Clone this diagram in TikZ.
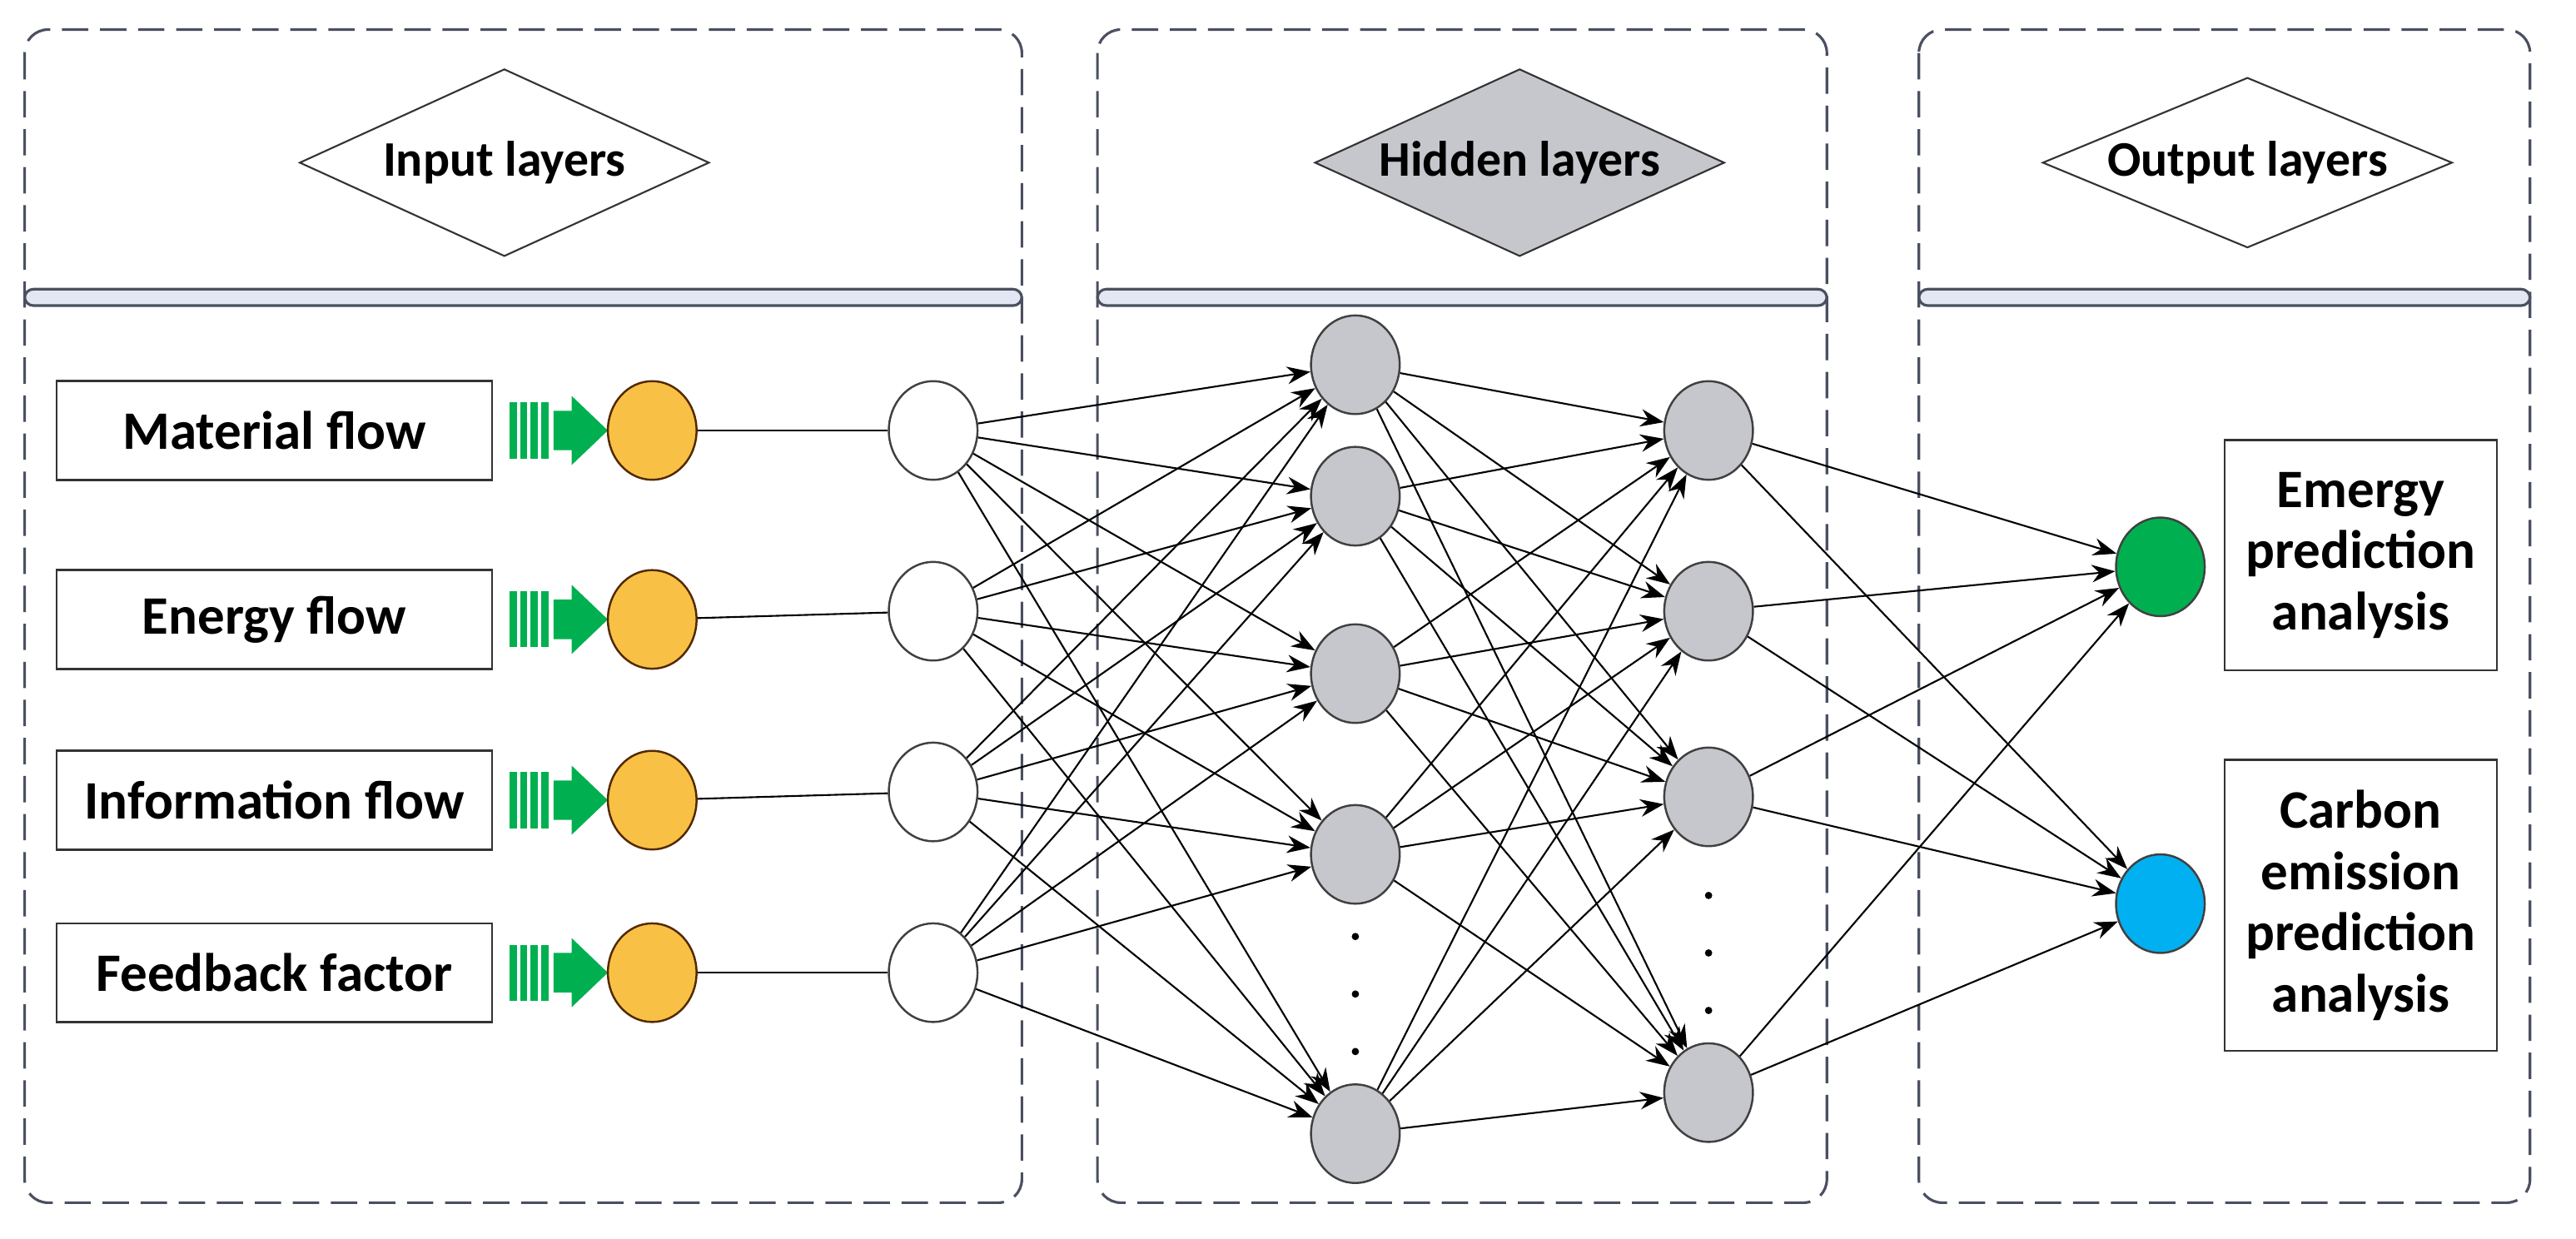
\documentclass[tikz,border=0pt]{standalone}
\usepackage{fontspec}
\setmainfont{Carlito}
\usetikzlibrary{shapes.geometric,arrows.meta}
\definecolor{orng}{HTML}{F8C145}
\definecolor{grn}{HTML}{00B050}
\definecolor{blu}{HTML}{00B0F0}
\definecolor{gry}{HTML}{C6C7CC}
\definecolor{dsh}{HTML}{4A5060}
\definecolor{barf}{HTML}{E4E6F4}
\begin{document}
\begin{tikzpicture}[x=0.01973cm,y=-0.01973cm,
  panel/.style={draw=dsh,line width=0.9pt,dash pattern=on 9pt off 4pt,rounded corners=8pt},
  bar/.style={draw=dsh,line width=0.9pt,fill=barf,rounded corners=3pt},
  dia/.style={diamond,draw=black!80,line width=0.6pt,aspect=2.2,minimum width=140pt,minimum height=64pt,inner sep=0pt,font=\bfseries\fontsize{17}{20}\selectfont},
  box/.style={draw=black!80,line width=0.8pt,minimum width=148.8pt,minimum height=33.7pt,font=\bfseries\fontsize{18.5}{22}\selectfont},
  obox/.style={draw=black!80,line width=0.8pt,minimum width=93pt,inner sep=1pt,align=center,font=\bfseries\fontsize{18.5}{21}\selectfont},
  neu/.style={ellipse,draw=black!75,line width=0.7pt,minimum width=30.3pt,minimum height=33.7pt,inner sep=0pt},
  edge/.style={line width=0.6pt,-{Stealth[length=8pt,width=6pt]}},
  dot/.style={circle,fill=black,inner sep=0pt,minimum size=2.5pt}]
\useasboundingbox (0,0) rectangle (1568,754);
% panels
\draw[panel] (15,18) rectangle (622,732);
\draw[panel] (668,18) rectangle (1112,732);
\draw[panel] (1168,18) rectangle (1540,732);
\draw[bar] (15,176) rectangle (622,186);
\draw[bar] (668,176) rectangle (1112,186);
\draw[bar] (1168,176) rectangle (1540,186);
% headers
\node[dia] (hin) at (307,99) {Input layers};
\node[dia,fill=gry] (hhid) at (925,99) {Hidden layers};
\node[dia,minimum height=52pt] (hout) at (1368,99) {Output layers};
% input boxes
\foreach \n/\t/\y in {a/Material flow/262,b/Energy flow/377,c/Information flow/487,d/Feedback factor/592}{
  \node[box] (box\n) at (167,\y) {\t};
  \foreach \s in {0,1,2,3}{\fill[grn] (310+\s*6.5,\y-17) rectangle (314.5+\s*6.5,\y+17);}
  \fill[grn] (337,\y-12) -- (348,\y-12) -- (348,\y-21) -- (370,\y) -- (348,\y+21) -- (348,\y+12) -- (337,\y+12) -- cycle;
  \node[neu,fill=orng,draw=black!60!orange!80!black] (o\n) at (397,\y) {};
}
\foreach \n/\y in {a/262,b/372,c/482,d/592}{
  \node[neu,fill=white] (w\n) at (568,\y) {};
}
\foreach \n in {a,b,c,d}{\draw[line width=0.6pt] (o\n) -- (w\n);}
% hidden layers
\foreach \n/\y in {1/222,2/302,3/410,4/520,5/690}{\node[neu,fill=gry] (p\n) at (825,\y) {};}
\foreach \n/\y in {1/262,2/372,3/485,4/665}{\node[neu,fill=gry] (q\n) at (1040,\y) {};}
\node[dot] (d1) at (825,570) {};
\node[dot] (d2) at (825,605) {};
\node[dot] (d3) at (825,640) {};
\node[dot] (e1) at (1040,545) {};
\node[dot] (e2) at (1040,580) {};
\node[dot] (e3) at (1040,615) {};
% outputs
\node[neu,fill=grn] (g) at (1315,345) {};
\node[neu,fill=blu] (bl) at (1315,550) {};
\node[obox,minimum height=78.6pt] (ob1) at (1437,338) {Emergy\\prediction\\analysis};
\node[obox,minimum height=99.4pt] (ob2) at (1437,551) {Carbon\\emission\\prediction\\analysis};
% edges
\foreach \a in {a,b,c,d}{\foreach \b in {1,...,5}{\draw[edge] (w\a) -- (p\b);}}
\foreach \a in {1,...,5}{\foreach \b in {1,...,4}{\draw[edge] (p\a) -- (q\b);}}
\foreach \a in {1,...,4}{\draw[edge] (q\a) -- (g); \draw[edge] (q\a) -- (bl);}
\end{tikzpicture}
\end{document}
